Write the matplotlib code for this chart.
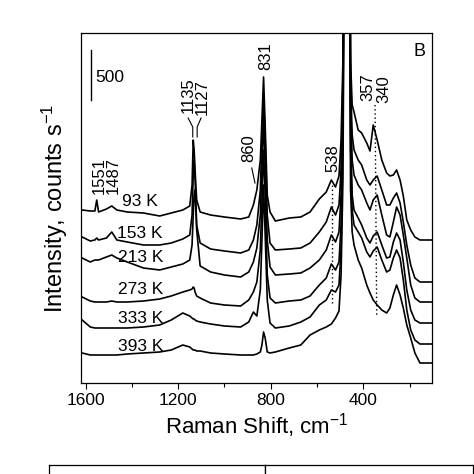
import matplotlib
matplotlib.use('Agg')
import matplotlib.pyplot as plt

plt.rcParams['font.family'] = ['Liberation Sans', 'DejaVu Sans']
plt.rcParams['mathtext.fontset'] = 'custom'
plt.rcParams['mathtext.rm'] = 'Liberation Sans'
plt.rcParams['mathtext.default'] = 'regular'

# Raman shift grid (cm-1), shared by all spectra
shift = [1615, 1580, 1560, 1552, 1544, 1510, 1487, 1465, 1420, 1350,
         1280, 1230, 1180, 1150, 1140, 1135, 1131, 1127, 1120, 1105,
         1060, 1000, 930, 895, 875, 860, 845, 838, 831, 824,
         815, 803, 780, 720, 670, 630, 590, 560, 538, 520,
         505, 496, 488, 478, 470, 462, 455, 448, 440, 422,
         407, 385, 371, 357, 340, 320, 299, 285, 270, 256,
         241, 227, 212, 195, 177, 155, 130, 103]

# intensities (counts s-1, offset traces as in the figure)
i_93 = [1730, 1720, 1720, 1830, 1710, 1740, 1770, 1730, 1710, 1700,
        1670, 1700, 1730, 1770, 1980, 2430, 2330, 2130, 1830, 1710,
        1680, 1660, 1640, 1660, 1780, 1930, 2230, 2630, 3060, 2580,
        1880, 1710, 1620, 1650, 1660, 1710, 1840, 1910, 2030, 1960,
        2070, 2430, 3230, 6830, 12830, 6830, 3230, 2780, 2710, 2530,
        2500, 2400, 2320, 2580, 2430, 2230, 2100, 2070, 2080, 2130,
        2030, 1870, 1630, 1530, 1460, 1430, 1430, 1430]
i_153 = [1460, 1420, 1430, 1450, 1430, 1450, 1510, 1430, 1410, 1380,
         1380, 1400, 1440, 1480, 1680, 2080, 2230, 2030, 1580, 1400,
         1340, 1320, 1300, 1330, 1430, 1580, 1930, 2430, 2850, 2430,
         1680, 1400, 1330, 1340, 1350, 1400, 1510, 1610, 1760, 1680,
         1780, 2130, 3030, 6830, 12830, 6830, 3030, 2480, 2330, 2230,
         2180, 2030, 1980, 2030, 2070, 1930, 1780, 1780, 1850, 1900,
         1800, 1610, 1380, 1180, 1050, 1010, 1010, 1010]
i_213 = [1250, 1210, 1230, 1230, 1230, 1260, 1280, 1250, 1210, 1150,
         1130, 1160, 1190, 1230, 1380, 1680, 1880, 1930, 1530, 1170,
         1110, 1080, 1060, 1110, 1210, 1350, 1680, 2130, 2650, 2180,
         1430, 1160, 1080, 1090, 1100, 1150, 1230, 1330, 1480, 1410,
         1510, 1880, 2830, 6830, 12830, 6830, 2830, 2230, 2080, 1980,
         1930, 1800, 1730, 1830, 1880, 1680, 1480, 1460, 1610, 1760,
         1680, 1480, 1250, 980, 850, 810, 810, 810]
i_273 = [860, 820, 810, 810, 810, 810, 820, 810, 810, 820,
         840, 870, 910, 930, 940, 960, 950, 910, 870, 850,
         800, 780, 770, 830, 910, 1010, 1330, 1830, 2330, 1880,
         1080, 850, 800, 820, 830, 870, 980, 1050, 1190, 1130,
         1210, 1580, 2630, 6830, 12830, 6830, 2530, 1880, 1730, 1650,
         1580, 1450, 1400, 1470, 1510, 1380, 1250, 1260, 1410, 1500,
         1430, 1210, 930, 730, 630, 600, 600, 600]
i_333 = [630, 560, 550, 550, 550, 550, 550, 550, 550, 560,
         580, 630, 700, 670, 650, 640, 640, 630, 620, 610,
         590, 570, 560, 610, 710, 670, 930, 1430, 1980, 1480,
         830, 600, 550, 570, 610, 660, 780, 830, 930, 910,
         980, 1330, 2430, 6830, 12830, 6830, 2330, 1730, 1580, 1510,
         1450, 1310, 1260, 1320, 1360, 1230, 1110, 1130, 1250, 1330,
         1250, 1030, 730, 530, 430, 390, 390, 390]
i_393 = [300, 280, 280, 280, 280, 280, 280, 280, 290, 300,
         310, 330, 380, 360, 340, 330, 330, 330, 320, 320,
         300, 290, 280, 280, 280, 290, 310, 380, 510, 450,
         310, 300, 310, 350, 380, 480, 530, 560, 590, 650,
         720, 1080, 2030, 5830, 11830, 5830, 1930, 1510, 1380, 1230,
         1150, 980, 900, 830, 780, 730, 700, 750, 880, 980,
         880, 750, 580, 450, 300, 200, 200, 200]

spectra = [i_93, i_153, i_213, i_273, i_333, i_393]
temps = ['93 K', '153 K', '213 K', '273 K', '333 K', '393 K']
temp_y = [1815, 1495, 1260, 930, 645, 365]

peak_text = ['1551', '1487', '1135', '1127', '860', '831', '538', '357', '340']
peak_x = [1542, 1481, 1157, 1097, 894, 820, 533, 382, 311]
peak_y = [2080, 2070, 2880, 2860, 2350, 3270, 2250, 2960, 2940]

fig = plt.figure(figsize=(4.74, 4.74), dpi=100)
ax = fig.add_axes([81 / 474, 91 / 474, 351 / 474, 350 / 474])

for trace in spectra:
    ax.plot(shift, trace, color='black', lw=1.2)

for name, ty in zip(temps, temp_y):
    ax.text(1364, ty, name, fontsize=12.5, ha='center', va='center')

for name, px, py in zip(peak_text, peak_x, peak_y):
    ax.text(px, py, name, fontsize=12, rotation=90, ha='center', va='center')

# leader lines for the 1135/1127 pair and the 860 shoulder
ax.plot([1157, 1137, 1137], [2650, 2560, 2460], color='black', lw=0.8)
ax.plot([1101, 1118, 1118], [2650, 2560, 2460], color='black', lw=0.8)
ax.plot([882, 868], [2150, 2000], color='black', lw=0.8)

# dotted guides
ax.plot([537, 537], [1980, 800], color='black', lw=1, ls=(0, (1, 2)))
ax.plot([349, 342], [2780, 680], color='black', lw=1, ls=(0, (1, 2)))

# scale bar: 500 counts
ax.plot([1578, 1578], [2830, 3330], color='black', lw=1)
ax.text(1559, 3060, '500', fontsize=12.5, ha='left', va='center')
ax.text(155, 3320, 'B', fontsize=13, ha='center', va='center')

ax.set_xlim(1620, 103)
ax.set_ylim(0, 3500)
ax.set_yticks([])
ax.set_xticks([1600, 1200, 800, 400])
ax.set_xticks([1400, 1000, 600, 200], minor=True)
ax.tick_params(axis='x', which='major', direction='out', length=4.5, width=0.8,
               labelsize=12.5, pad=3)
ax.tick_params(axis='x', which='minor', direction='out', length=3, width=0.8)
for sp in ax.spines.values():
    sp.set_linewidth(0.9)
ax.set_xlabel('Raman Shift, cm$^{-1}$', fontsize=16, labelpad=2)
ax.set_ylabel('Intensity, counts s$^{-1}$', fontsize=17)
ax.yaxis.set_label_coords(-0.032, 0.5)

# edge of the next panel, cut off at the bottom
for left, width in [(49, 216), (265, 208)]:
    nb = fig.add_axes([left / 474, -0.05, width / 474, 9 / 474 + 0.05])
    nb.set_xticks([])
    nb.set_yticks([])
    for sp in nb.spines.values():
        sp.set_linewidth(0.9)

fig.savefig('out.png', dpi=100)
